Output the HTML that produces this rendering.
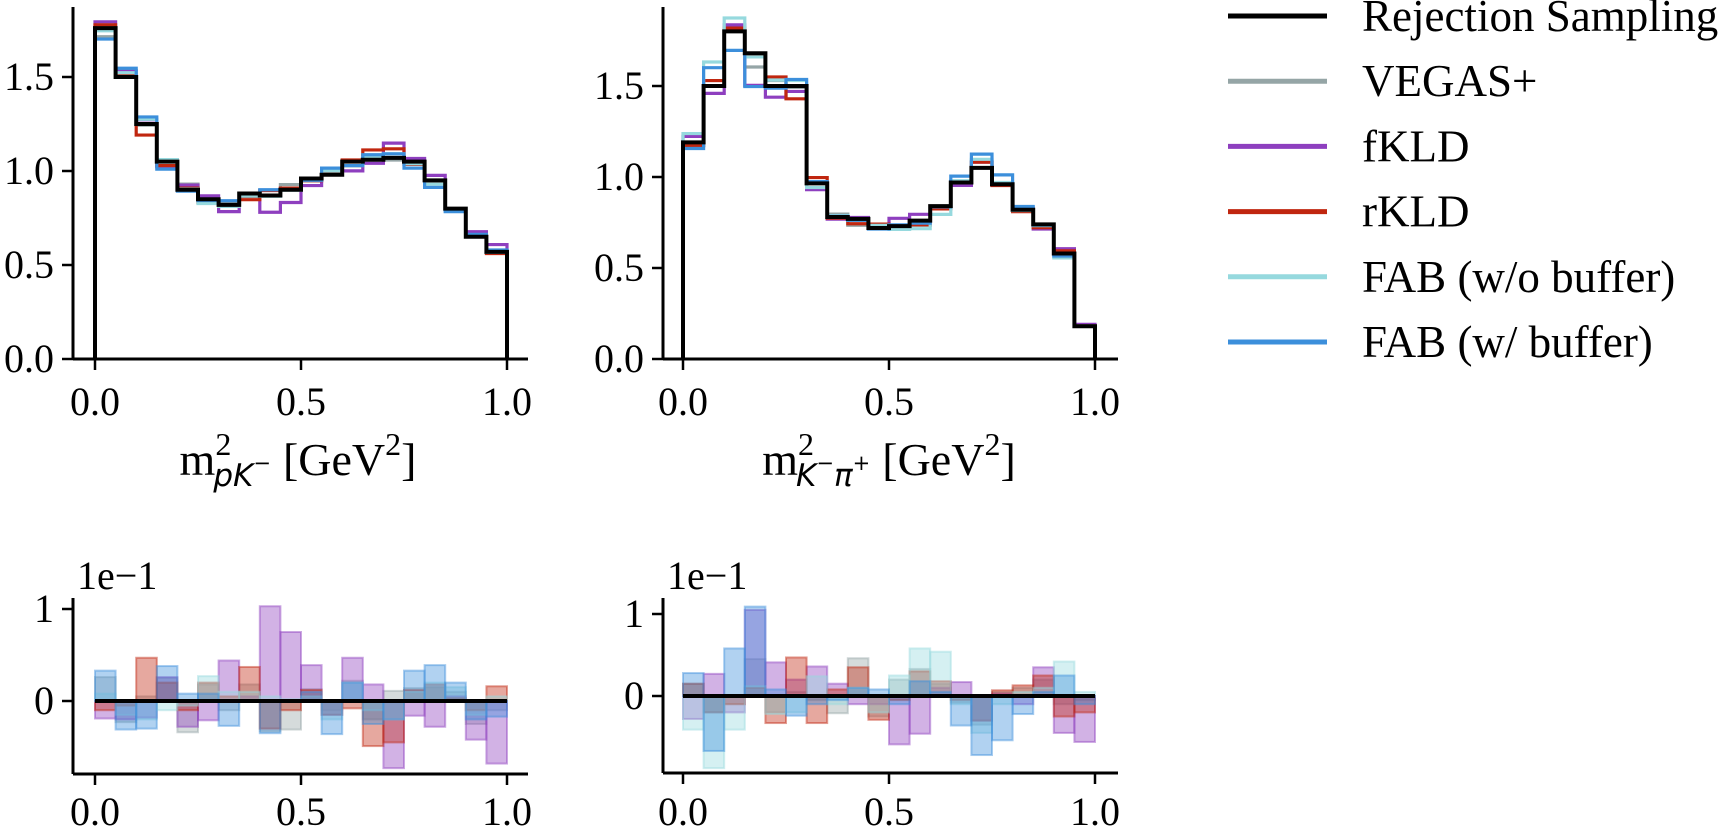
<!DOCTYPE html>
<html><head><meta charset="utf-8"><style>
html,body{margin:0;padding:0;background:#fff;}
svg{display:block;font-family:"Liberation Serif",serif;}
</style></head><body>
<svg id="chart" width="1725" height="828" viewBox="0 0 1725 828" xmlns="http://www.w3.org/2000/svg"></svg>
<script>
// ---------- data ----------
const binEdgesCount = 20;
const seriesNames = ["VEGAS+","fKLD","rKLD","FAB (w/o buffer)","FAB (w/ buffer)"];
const refLeft  = [1.76,1.50,1.25,1.05,0.90,0.85,0.82,0.88,0.87,0.90,0.96,0.98,1.05,1.06,1.07,1.05,0.95,0.80,0.65,0.57];
const refRight = [1.19,1.50,1.80,1.68,1.50,1.50,0.965,0.78,0.77,0.72,0.73,0.76,0.84,0.97,1.05,0.96,0.82,0.74,0.58,0.18];
// residuals (units of 1e-1), one array per model
const resLeftVegas  = [0.26,-0.23,0.05,0.25,-0.34,0.18,-0.10,0.18,-0.33,-0.31,0.13,-0.10,0.22,-0.20,0.11,0.14,0.15,0.10,-0.25,-0.10];
const resLeftFkld   = [-0.19,-0.20,-0.18,0.26,-0.28,-0.21,0.44,0.05,1.03,0.75,0.39,-0.15,0.47,0.18,-0.73,-0.16,-0.28,0.05,-0.42,-0.68];
const resLeftRkld   = [-0.10,-0.05,0.47,0.20,-0.10,0.20,0.05,0.37,-0.30,-0.10,0.12,-0.15,-0.08,-0.49,-0.45,0.12,0.18,0.03,-0.10,0.16];
const resLeftFabNo  = [0.08,-0.15,-0.20,-0.10,-0.05,0.27,0.10,0.10,0.05,0.02,0.05,-0.20,0.20,-0.10,-0.20,0.10,0.20,0.15,-0.15,0.05];
const resLeftFabBuf = [0.33,-0.31,-0.30,0.38,0.08,0.08,-0.27,0.00,-0.35,0.00,0.10,-0.36,0.20,-0.25,-0.20,0.33,0.39,0.20,-0.20,-0.17];
const resRightVegas  = [0.15,-0.20,-0.10,0.45,-0.20,0.05,-0.05,-0.21,0.46,-0.25,0.20,0.33,0.15,-0.08,-0.35,0.05,0.10,0.20,-0.10,-0.05];
const resRightFkld   = [-0.28,0.27,-0.20,1.05,0.41,0.20,0.36,0.15,-0.10,-0.10,-0.59,-0.46,0.10,0.17,-0.30,0.03,-0.10,0.35,-0.45,-0.56];
const resRightRkld   = [0.15,-0.20,-0.10,0.10,-0.33,0.47,-0.33,0.08,0.35,-0.29,-0.05,0.30,0.18,-0.05,-0.30,0.07,0.13,0.25,-0.25,-0.20];
const resRightFabNo  = [-0.41,-0.88,-0.41,0.12,-0.22,-0.20,0.24,-0.10,0.10,-0.20,0.25,0.58,0.54,-0.10,-0.45,-0.10,0.05,0.10,0.42,0.05];
const resRightFabBuf = [0.28,-0.67,0.58,1.09,0.08,-0.24,-0.10,-0.05,0.10,0.08,-0.10,0.18,0.05,-0.36,-0.72,-0.54,-0.22,0.05,0.25,-0.10];
const xTicks = [0, 0.5, 1.0];
const xTickLabels = ["0.0","0.5","1.0"];
const yTicksTop = [0, 0.5, 1.0, 1.5];
const yTickLabelsTop = ["0.0","0.5","1.0","1.5"];
const yTicksBottom = [0, 1];
const yTickLabelsBottom = ["0","1"];

// ---------- style ----------
const colors = ["#95a5a6","#8e3fbf","#c0260f","#96d9de","#3c8fdb"];
const NS = "http://www.w3.org/2000/svg";
const svg = document.getElementById("chart");
function mk(tag, attrs, parent){
  const e = document.createElementNS(NS, tag);
  for (const k in attrs) e.setAttribute(k, attrs[k]);
  (parent||svg).appendChild(e);
  return e;
}
const panels = {
  tl:{x0:95, xs:412, y0:359, ys:188, sx0:73, sx1:528, sy0:7, sy1:359},
  tr:{x0:683, xs:412, y0:359, ys:182, sx0:663, sx1:1118, sy0:7, sy1:359},
  bl:{x0:95, xs:412, y0:701, ys:92, sx0:73, sx1:528, sy0:598, sy1:774},
  br:{x0:683, xs:412, y0:696, ys:82, sx0:663, sx1:1118, sy0:598, sy1:773}
};
const X = (p,v)=>p.x0 + v*p.xs;
const Y = (p,v)=>p.y0 - v*p.ys;

function axes(p, name, yt, ytl, bottomLabelY){
  const g = mk("g",{});
  
  
  mk("line",{x1:p.sx0,y1:p.sy0,x2:p.sx0,y2:p.sy1,stroke:"#000","stroke-width":3},g);
  mk("line",{x1:p.sx0,y1:p.sy1,x2:p.sx1,y2:p.sy1,stroke:"#000","stroke-width":3},g);
  xTicks.forEach((v,i)=>{
    const x = X(p,v);
    mk("line",{x1:x,y1:p.sy1,x2:x,y2:p.sy1+11,stroke:"#000","stroke-width":2.5},g);
    const t = mk("text",{x:x,y:bottomLabelY,"text-anchor":"middle","font-size":40},g);
    t.textContent = xTickLabels[i];
    
    
  });
  yt.forEach((v,i)=>{
    const y = Y(p,v);
    mk("line",{x1:p.sx0-11,y1:y,x2:p.sx0,y2:y,stroke:"#000","stroke-width":2.5},g);
    const t = mk("text",{x:p.sx0-19,y:y+13,"text-anchor":"end","font-size":40},g);
    t.textContent = ytl[i];
    
    
  });
}

function stepPath(p, vals){
  let d = "M" + X(p,0) + "," + Y(p,0);
  vals.forEach((v,i)=>{
    const xa = X(p,i/binEdgesCount), xb = X(p,(i+1)/binEdgesCount);
    d += " L" + xa + "," + Y(p,v) + " L" + xb + "," + Y(p,v);
  });
  d += " L" + X(p,1) + "," + Y(p,0);
  return d;
}

function topPanel(p, name, ref, resList){
  axes(p, name, yTicksTop, yTickLabelsTop, 415);
  resList.forEach((res,s)=>{
    const model = ref.map((r,i)=> r*(1 - res[i]*0.1));
    const path = mk("path",{d:stepPath(p,model),fill:"none",stroke:colors[s],"stroke-width":3.2,"stroke-linejoin":"miter"});
    
    
  });
  const rp = mk("path",{d:stepPath(p,ref),fill:"none",stroke:"#000","stroke-width":4});
  
  
}

function bottomPanel(p, name, resList){
  axes(p, name, yTicksBottom, yTickLabelsBottom, 825);
  resList.forEach((res,s)=>{
    res.forEach((v,i)=>{
      const xa = X(p,i/binEdgesCount), xb = X(p,(i+1)/binEdgesCount);
      const ya = Y(p,Math.max(v,0)), yb = Y(p,Math.min(v,0));
      const r = mk("rect",{x:xa,y:ya,width:xb-xa,height:Math.max(yb-ya,0.5),fill:colors[s],"fill-opacity":0.4,stroke:colors[s],"stroke-opacity":0.45,"stroke-width":2});
      
      
    });
  });
  const z = mk("line",{x1:X(p,0),y1:Y(p,0),x2:X(p,1),y2:Y(p,0),stroke:"#000","stroke-width":4});
  
  
  const o = mk("text",{x:p.sx0+4,y:589,"font-size":40});
  o.textContent = "1e\u22121";
  
  
}

topPanel(panels.tl, "top-left", refLeft, [resLeftVegas,resLeftFkld,resLeftRkld,resLeftFabNo,resLeftFabBuf]);
topPanel(panels.tr, "top-right", refRight, [resRightVegas,resRightFkld,resRightRkld,resRightFabNo,resRightFabBuf]);
bottomPanel(panels.bl, "bottom-left", [resLeftVegas,resLeftFkld,resLeftRkld,resLeftFabNo,resLeftFabBuf]);
bottomPanel(panels.br, "bottom-right", [resRightVegas,resRightFkld,resRightRkld,resRightFabNo,resRightFabBuf]);

// legend
const legendLabels = ["Rejection Sampling"].concat(seriesNames);
const legendColors = ["#000"].concat(colors);
const lg = mk("g",{});


legendLabels.forEach((lab,i)=>{
  const y = 16 + i*65.2;
  const l = mk("line",{x1:1228,y1:y,x2:1327,y2:y,stroke:legendColors[i],"stroke-width":5},lg);
  
  
  const t = mk("text",{x:1362,y:y+15,"font-size":45},lg);
  t.textContent = lab;
  
  
});
</script>
<svg style="position:absolute;left:0;top:0" width="1725" height="828">
  <text x="298" y="475" text-anchor="middle" font-family="Liberation Serif, serif" font-size="46">m<tspan font-size="32" dy="-20">2</tspan><tspan font-family="DejaVu Sans, sans-serif" font-style="italic" font-size="31" dx="-18" dy="31">pK</tspan><tspan font-family="DejaVu Sans, sans-serif" font-size="21" dy="-16">−</tspan><tspan dy="5" dx="12">[GeV</tspan><tspan font-size="32" dy="-20">2</tspan><tspan dy="20">]</tspan></text>
  <text x="889" y="475" text-anchor="middle" font-family="Liberation Serif, serif" font-size="46">m<tspan font-size="32" dy="-20">2</tspan><tspan font-family="DejaVu Sans, sans-serif" font-style="italic" font-size="31" dx="-18" dy="31">K</tspan><tspan font-family="DejaVu Sans, sans-serif" font-size="21" dy="-16">−</tspan><tspan font-family="DejaVu Sans, sans-serif" font-style="italic" font-size="31" dy="16">π</tspan><tspan font-family="DejaVu Sans, sans-serif" font-size="21" dy="-16">+</tspan><tspan dy="5" dx="12">[GeV</tspan><tspan font-size="32" dy="-20">2</tspan><tspan dy="20">]</tspan></text>
</svg>
</body></html>
